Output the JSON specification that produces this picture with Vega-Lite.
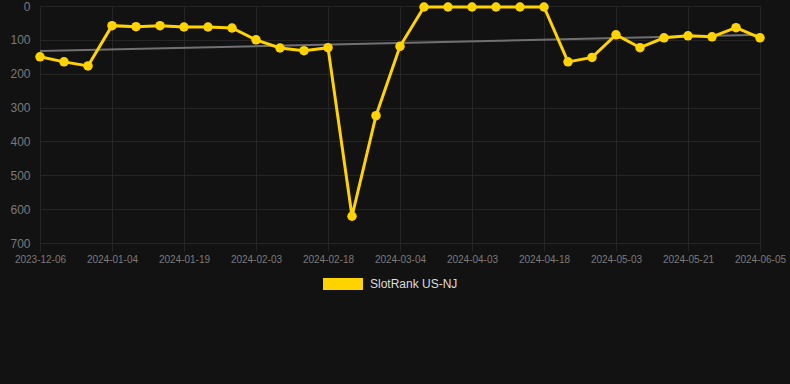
{
  "$schema": "https://vega.github.io/schema/vega-lite/v6.json",
  "width": 720,
  "height": 237,
  "autosize": "none",
  "padding": {"left": 40, "top": 6, "right": 30, "bottom": 141},
  "background": "#121212",
  "config": {
    "view": {"stroke": null},
    "font": "Liberation Sans, Arial, sans-serif",
    "axis": {"gridColor": "#252525", "gridWidth": 1, "domain": false, "labelColor": "#7a7a7a", "title": null}
  },
  "datasets": {
    "rank": [
      {"date": "2023-12-06", "rank": 150},
      {"date": "2023-12-16", "rank": 165},
      {"date": "2023-12-26", "rank": 177},
      {"date": "2024-01-04", "rank": 58},
      {"date": "2024-01-09", "rank": 61},
      {"date": "2024-01-14", "rank": 58},
      {"date": "2024-01-19", "rank": 62},
      {"date": "2024-01-24", "rank": 62},
      {"date": "2024-01-29", "rank": 65},
      {"date": "2024-02-03", "rank": 100},
      {"date": "2024-02-08", "rank": 124},
      {"date": "2024-02-13", "rank": 132},
      {"date": "2024-02-18", "rank": 123},
      {"date": "2024-02-23", "rank": 621},
      {"date": "2024-02-28", "rank": 324},
      {"date": "2024-03-04", "rank": 119},
      {"date": "2024-03-14", "rank": 3},
      {"date": "2024-03-24", "rank": 3},
      {"date": "2024-04-03", "rank": 3},
      {"date": "2024-04-08", "rank": 3},
      {"date": "2024-04-13", "rank": 3},
      {"date": "2024-04-18", "rank": 3},
      {"date": "2024-04-23", "rank": 165},
      {"date": "2024-04-28", "rank": 152},
      {"date": "2024-05-03", "rank": 85},
      {"date": "2024-05-09", "rank": 123},
      {"date": "2024-05-15", "rank": 94},
      {"date": "2024-05-21", "rank": 88},
      {"date": "2024-05-26", "rank": 91},
      {"date": "2024-05-31", "rank": 64},
      {"date": "2024-06-05", "rank": 94}
    ],
    "trend": [
      {"date": "2023-12-06", "rank": 133},
      {"date": "2024-06-05", "rank": 85}
    ]
  },
  "encoding": {
    "x": {
      "field": "date", "type": "ordinal",
      "scale": {"type": "point", "padding": 0},
      "axis": {
        "values": ["2023-12-06", "2024-01-04", "2024-01-19", "2024-02-03", "2024-02-18", "2024-03-04", "2024-04-03", "2024-04-18", "2024-05-03", "2024-05-21", "2024-06-05"],
        "labelAngle": 0, "labelFontSize": 10, "tickColor": "#252525", "tickSize": 8, "labelPadding": 3, "grid": true
      }
    },
    "y": {
      "field": "rank", "type": "quantitative",
      "scale": {"domain": [0, 700], "reverse": true, "nice": false, "zero": false},
      "axis": {"values": [0, 100, 200, 300, 400, 500, 600, 700], "labelFontSize": 12, "ticks": false, "labelPadding": 10, "grid": true}
    }
  },
  "layer": [
    {
      "data": {"name": "trend"},
      "mark": {"type": "line", "color": "#707070", "strokeWidth": 2}
    },
    {
      "data": {"name": "rank"},
      "mark": {"type": "line", "color": "#FFD300", "strokeWidth": 3}
    },
    {
      "data": {"name": "rank"},
      "mark": {"type": "point", "filled": true, "opacity": 1, "size": 90},
      "encoding": {
        "color": {
          "datum": "SlotRank US-NJ",
          "scale": {"range": ["#FFD300"]},
          "legend": {
            "orient": "none", "legendX": 283, "legendY": 258,
            "title": null, "padding": 0,
            "symbolType": "M-1,-0.3H1V0.3H-1Z", "symbolSize": 1600, "symbolStrokeWidth": 0,
            "labelFontSize": 12, "labelColor": "#dddddd", "labelOffset": 7
          }
        }
      }
    }
  ]
}
